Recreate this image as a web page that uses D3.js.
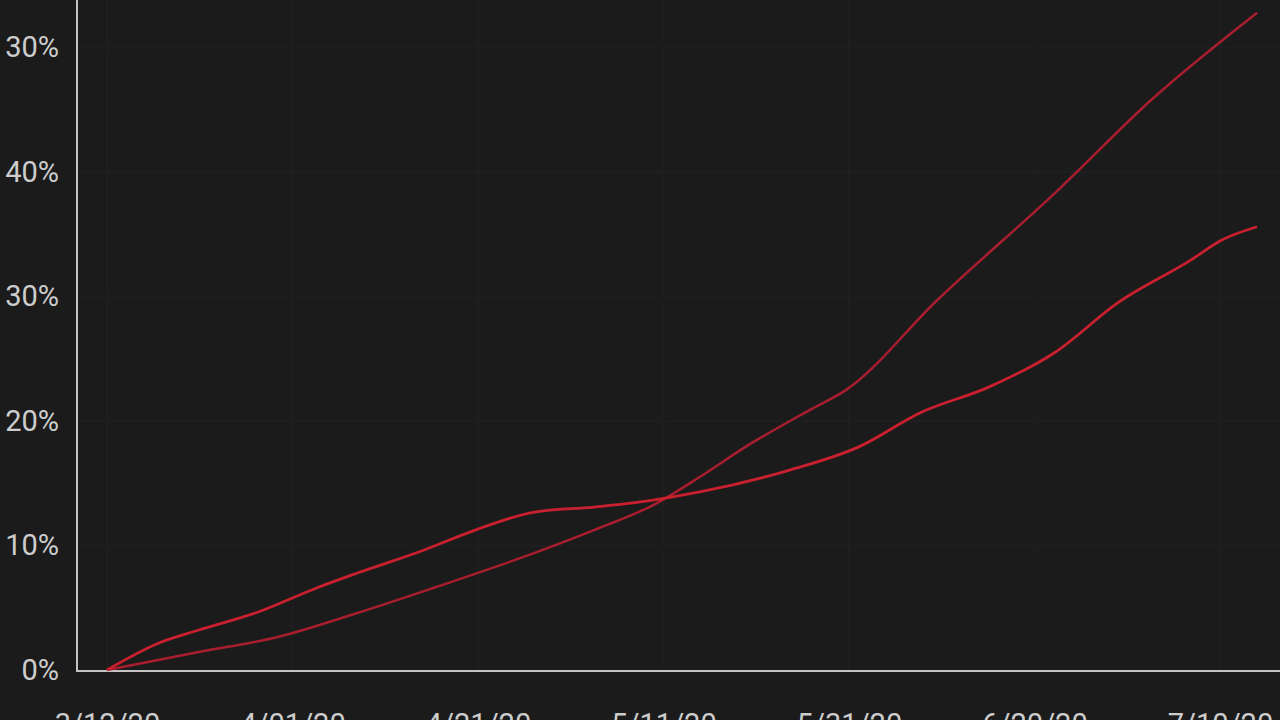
<!DOCTYPE html>
<html>
<head>
<meta charset="utf-8">
<script src="https://cdn.jsdelivr.net/npm/d3@7"></script>
<style>
  html, body { margin: 0; padding: 0; background: #1b1b1b; overflow: hidden; }
  svg { display: block; }
</style>
</head>
<body>
<svg id="chart"></svg>
<script>
// days since first label, cumulative change in %
const daysA = [0, 9.9, 18.4, 27, 35.5, 44, 52.5, 58.9, 63.9, 68.8, 75.8, 79.7, 89.5, 102.2, 112.9, 124]
const valuesA = [0, 1.45, 2.65, 4.58, 6.67, 8.84, 11.24, 13.25, 15.5, 17.9, 20.9, 22.5, 29.7, 38.3, 46.0, 52.8]

const daysB = [0, 5.6, 9.9, 16.3, 22.6, 27, 34.2, 39.7, 46.1, 52.5, 58.9, 63.9, 73.6, 81, 87.8, 95, 102.2, 109, 116.8, 120.1, 124]
const valuesB = [0, 2.17, 3.21, 4.66, 6.59, 7.79, 9.64, 11.24, 12.69, 13.09, 13.65, 14.3, 16.06, 17.9, 20.7, 22.7, 25.5, 29.5, 32.9, 34.5, 35.6]

const xTicks = [0, 20, 40, 60, 80, 100, 120]
const xTickLabels = ['3/12/20', '4/01/20', '4/21/20', '5/11/20', '5/31/20', '6/20/20', '7/10/20']
const yTicks = [0, 10, 20, 30, 40, 50]
const yTickLabels = ['0%', '10%', '20%', '30%', '40%', '30%']

const width = 1280
const height = 720

const svg = d3.select('#chart')
  .attr('width', width)
  .attr('height', height)

svg.append('rect')
  .attr('width', width)
  .attr('height', height)
  .attr('fill', '#1b1b1b')

const x = d3.scaleLinear().domain([0, 120]).range([107, 1220])
const y = d3.scaleLinear().domain([0, 50]).range([670, 47.5])

// faint grid, barely visible
svg.append('g')
  .selectAll('line')
  .data(xTicks)
  .enter().append('line')
  .attr('x1', d => x(d)).attr('x2', d => x(d))
  .attr('y1', 0).attr('y2', 670)
  .attr('stroke', '#1e1e1e')
  .attr('stroke-width', 2)

svg.append('g')
  .selectAll('line')
  .data(yTicks.slice(1))
  .enter().append('line')
  .attr('x1', 78).attr('x2', width)
  .attr('y1', d => y(d)).attr('y2', d => y(d))
  .attr('stroke', '#1e1e1e')
  .attr('stroke-width', 2)

// axes
const yAxis = svg.append('g')
  .attr('transform', 'translate(77,0)')
  .call(d3.axisLeft(y)
    .tickValues(yTicks)
    .tickSize(0)
    .tickPadding(18)
    .tickFormat((d, i) => yTickLabels[i]))
yAxis.select('.domain').remove()

const xAxis = svg.append('g')
  .attr('transform', 'translate(0,671)')
  .call(d3.axisBottom(x)
    .tickValues(xTicks)
    .tickSize(0)
    .tickPadding(42)
    .tickFormat((d, i) => xTickLabels[i]))
xAxis.select('.domain').remove()

svg.selectAll('.tick text')
  .attr('fill', '#cdcdcd')
  .style('font-family', 'Roboto, "Liberation Sans", sans-serif')
  .style('font-size', '29px')

svg.append('line')
  .attr('x1', 77).attr('x2', 77)
  .attr('y1', 0).attr('y2', 672)
  .attr('stroke', '#c4c4c4')
  .attr('stroke-width', 2)

svg.append('line')
  .attr('x1', 76).attr('x2', width)
  .attr('y1', 671).attr('y2', 671)
  .attr('stroke', '#c4c4c4')
  .attr('stroke-width', 2)

// lines
const line = d3.line()
  .x(d => x(d[0]))
  .y(d => y(d[1]))
  .curve(d3.curveMonotoneX)

svg.append('path')
  .datum(d3.zip(daysA, valuesA))
  .attr('d', line)
  .attr('fill', 'none')
  .attr('stroke', '#a81e2e')
  .attr('stroke-width', 2.5)

svg.append('path')
  .datum(d3.zip(daysB, valuesB))
  .attr('d', line)
  .attr('fill', 'none')
  .attr('stroke', '#c8202e')
  .attr('stroke-width', 2.8)
</script>
</body>
</html>
